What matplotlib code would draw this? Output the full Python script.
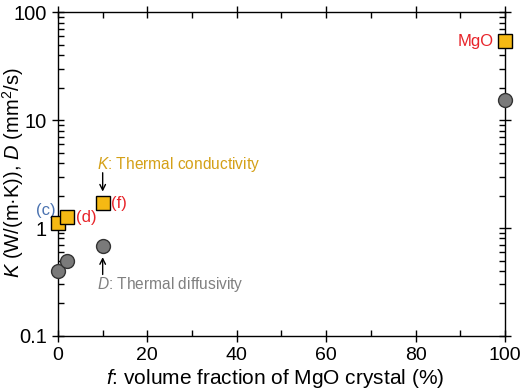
import matplotlib.pyplot as plt
import numpy as np

plt.rcParams['font.family'] = 'Liberation Sans'
plt.rcParams['mathtext.fontset'] = 'custom'
plt.rcParams['mathtext.rm'] = 'Liberation Sans'
plt.rcParams['mathtext.it'] = 'Liberation Sans:italic'

# data
frac_K = [0, 2, 10, 100]
K_vals = [1.12, 1.27, 1.70, 54]
frac_D = [0, 2, 10, 100]
D_vals = [0.40, 0.50, 0.68, 15.5]

x_ticks = [0, 20, 40, 60, 80, 100]
y_ticks = [0.1, 1, 10, 100]
y_labels = ['0.1', '1', '10', '100']

gold = '#F5B913'
gold_text = '#D4A017'
red = '#E8242A'
blue = '#4A72B0'
grey = '#808080'

fig = plt.figure(figsize=(5.2, 3.91), dpi=100)
ax = fig.add_axes([0.1115, 0.1407, 0.8595, 0.8283])

ax.plot(frac_D, D_vals, 'o', ms=10, mfc='#7a7a7a', mec='#333333', mew=1,
        clip_on=False, zorder=3)
ax.plot(frac_K, K_vals, 's', ms=9.5, mfc=gold, mec='black', mew=1,
        clip_on=False, zorder=4)

ax.set_yscale('log')
ax.set_xlim(0, 100)
ax.set_ylim(0.1, 100)
ax.set_xticks(x_ticks)
ax.set_xticks(np.arange(10, 100, 20), minor=True)
ax.set_yticks(y_ticks)
ax.set_yticklabels(y_labels)

ax.tick_params(which='major', direction='inout', length=9, width=1,
               labelsize=14.5, top=True, right=True)
ax.tick_params(axis='x', which='major', labelsize=14)
ax.tick_params(which='minor', direction='in', length=4, width=1,
               top=True, right=True)
ax.tick_params(axis='y', which='minor', labelleft=False)
for s in ax.spines.values():
    s.set_linewidth(1)

ax.set_xlabel('$f$: volume fraction of MgO crystal (%)', fontsize=15, labelpad=0)
ax.xaxis.set_label_coords(0.485, -0.095)
ax.set_ylabel('$K$ (W/(m·K)), $D$ (mm$^2$/s)', fontsize=14.5)
ax.yaxis.set_label_coords(-0.071, 0.503)

# sample labels
ax.text(-2.8, 1.45, '(c)', color=blue, fontsize=12, ha='center', va='center')
ax.text(4.0, 1.24, '(d)', color=red, fontsize=12, ha='left', va='center')
ax.text(11.8, 1.68, '(f)', color=red, fontsize=12, ha='left', va='center')
ax.text(97.5, 54, 'MgO', color=red, fontsize=12, ha='right', va='center')

ax.text(8.8, 3.9, '$K$: Thermal conductivity', color=gold_text, fontsize=11.2,
        ha='left', va='center')
ax.annotate('', xy=(10, 2.05), xytext=(10, 3.45),
            arrowprops=dict(arrowstyle='->', color='black', lw=1))
ax.text(8.8, 0.30, '$D$: Thermal diffusivity', color=grey, fontsize=11.2,
        ha='left', va='center')
ax.annotate('', xy=(10, 0.57), xytext=(10, 0.35),
            arrowprops=dict(arrowstyle='->', color='black', lw=1))

plt.savefig('out.png', dpi=100)
